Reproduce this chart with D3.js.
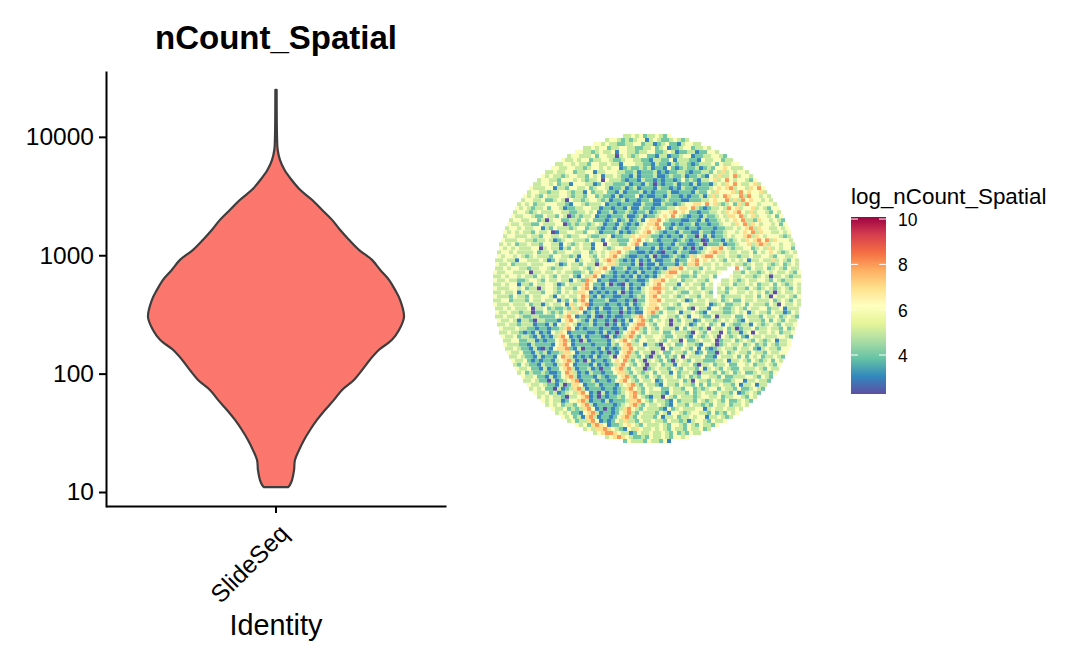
<!DOCTYPE html>
<html>
<head>
<meta charset="utf-8">
<script src="https://cdn.jsdelivr.net/npm/d3@7"></script>
<style>
  html, body { margin: 0; background: #fff; }
  svg { display: block; font-family: "Liberation Sans", Arial, sans-serif; }
</style>
</head>
<body>
<svg width="1080" height="667"></svg>
<script>
// Violin outline
const violinCounts = [11, 11.5, 12.6, 15.3, 18.6, 22.6, 27.5, 33.4, 40.6, 49.3, 60, 72.8, 88.5, 107, 131, 159, 193, 234, 301, 420, 510, 620, 754, 914, 1110, 1350, 1640, 1990, 2420, 2940, 3570, 4340, 5270, 6400, 7780, 10000, 25000];
const violinDensity = [0.094, 0.109, 0.125, 0.141, 0.148, 0.18, 0.219, 0.266, 0.32, 0.383, 0.453, 0.516, 0.609, 0.672, 0.734, 0.805, 0.906, 0.961, 1, 0.969, 0.93, 0.883, 0.813, 0.75, 0.648, 0.57, 0.5, 0.438, 0.359, 0.281, 0.188, 0.121, 0.066, 0.031, 0.013, 0.008, 0.005];
const identities = ['SlideSeq'];
const countTicks = [10, 100, 1000, 10000];
const legendTicks = [4, 6, 8, 10];

// Spatial plot: one digit = estimated log count for a small patch of the puck, rows top to bottom,
// grouped in tens so the row lengths can be checked. '.' = empty.
// Bands and tone are read from the picture, the speckle cell by cell is only an estimate.
const spatialRows = [
  '5565645565 46',
  '5665454566 3565445654 5',
  '6656554455 6645534564 4356655',
  '5565664556 6554455645 6344566455 65',
  '6655456556 3665545566 4456534455 344665',
  '5665556466 5525654566 4435534456 6344556654',
  '6556566455 6654456655 4435544635 5544365566 455',
  '5566565546 6556553666 5544354435 4554345556 465566',
  '6655665545 6656566345 4454534436 4345445345 46676555',
  '5565566455 6635566655 4453444534 3445543445 5465756 5665',
  '6565545665 5465635565 4435344453 3454453445 4365755685 665',
  '5665546665 6545562655 5434435443 4344346454 3556756865 66546',
  '5566564553 6665534655 4445344354 2434453443 5344356576 8655675',
  '6555663554 6655645665 3445345344 4354434354 4344456767 856657686',
  '5665545566 5455364556 4435344453 4344453344 4354465766 6758676675',
  '6565465556 6545546645 4435344463 4334435443 4344535756 8766858665 65',
  '5665564456 5265545665 4534453443 4453345444 3344455676 6857586766 565',
  '5656455666 5543665455 5634434443 3544335443 4566776867 5456475866 56665',
  '6565455646 6534455665 5344344353 3544344455 6776854345 5658675667 565466',
  '5665456555 6655445565 6344534454 3445345667 8676443445 5657678657 5665465',
  '6556654465 5465245455 6344344453 3453445676 8654344354 4565776856 75665646',
  '5665566452 5664455465 6444345345 3453677865 4443344353 4456567685 547665654',
  '6556554465 5566245455 4565344354 3435677864 4343445344 3445665768 5765665646',
  '5665655663 5465554566 4554344354 3445676786 4354434434 4434455656 7857665565 6',
  '6565655465 5623556655 4665344453 4345678654 3443544335 4434456656 7685766556 56',
  '5665556554 6655654556 6544556344 5576775443 4344354425 3534456566 7857656665 45',
  '6555665545 5653456655 5465536554 4467865643 4443454344 2354435456 5767868576 665',
  '5656455655 4665536545 6553662655 4467863444 3443544334 5244453445 6675787566 5665',
  '6565655566 2565535465 6553665456 6776344435 3434453424 3567786545 5664565756 5664',
  '5665655556 4556455665 5664565677 8654433434 3244354433 4567875655 6556465676 54565',
  '6566565456 5554665545 3665465678 6543344352 4334543475 6788655655 4556556654 66556',
  '5565536655 5653465566 3566546787 5434353435 3344534467 8676565465 6563556557 565465',
  '6556455565 5566653465 5465525677 5444352433 5344435477 8655656556 5545655654 564565',
  '5565665545 5665455665 5654567863 4453443434 3435778655 54656555.. 8.54655645 654655',
  '6556655562 5565565655 4456477654 3443435344 3457886556 4565556... 5546554565 6556546',
  '5565665655 4656546556 4365786344 3434353434 3567765445 465564...6 5565545652 5565455',
  '6556554456 6546556553 6548763443 3443443346 7786556455 65546..556 5456556654 6545566',
  '5565663554 6556653465 5578644352 4325344356 7865553656 55465.6556 4556564556 4654565',
  '6555665645 5256654655 4678634344 4435343567 8875645565 56455.5645 6554654565 4565465',
  '5565563565 5546654656 5776343434 3524344567 7865565446 55654.5546 6556565645 2565565',
  '6555465546 5566536565 5687435344 3344345467 8655654565 54655.6455 5565564652 6556546',
  '5566455546 5565563546 4786344453 3443424467 7865556534 6556556456 4465565556 4565465',
  '6555655564 5535655637 5678344434 4343534567 7655654665 5556345644 5564655546 5265565',
  '5565655562 5564544547 5863435334 4353434677 8654455642 6553665445 6546556645 563555',
  '6556554552 4465454675 7634534434 4243433678 5465563556 5436555445 6563565546 553465',
  '5565565445 5444465786 3443532434 3344578654 4665546536 6544625556 4465554655 645654',
  '6556535542 5544436786 5435344342 4353678546 5652546553 4655456565 4365554646 54655',
  '5565545553 4435365765 3445344243 5346788654 6652556534 6564563654 4553654565 46556',
  '6555655443 4434457863 4344434433 4367854654 6555364655 4526556452 4556455655 4645',
  '5565543435 3436576344 4433435342 4678654655 6446555426 5465526455 3562655656 4556',
  '6556455435 3435786343 5344432534 5785465566 5446554365 4565265456 4365565 556 654',
  '5566445534 3446785342 5344443567 8654665565 4655264456 5562455645 6546545 63556',
  '6555443544 4436786344 4434443546 7855635542 6564465543 6652456556 4564546545 56',
  '5565443532 4367784352 4443534347 7865565552 6455654636 4345655465 5643565546 6',
  '6556443545 3445776344 4343424367 8546552564 4655465346 4425645655 4655465566',
  '5565443534 4368753434 3534452678 5546425464 5462655564 4365556464 656455654',
  '6556434344 3567853425 3443467685 4652565464 2565465544 4556355654 65456465',
  '5465443544 3578634443 5343457865 4652556455 3655642556 4556446656 4556546',
  '6556443534 4678534453 4244678546 5524565546 5465546356 5465446555 654655',
  '5645445433 4687534354 4344677546 5456465536 4556425554 6456456445 65546',
  '6556443534 6785344435 4344678546 5465465564 5645466554 6445556654 654',
  '5565442534 5678344534 4346786546 5563465556 4526554655 4456635565 54',
  '6556544352 4776344534 4435678546 5543655465 5464645565 5463556355',
  '5656442534 5785344434 4345786546 5664465546 6454566465 546445654',
  '6556453456 5786342534 3456785465 5543655546 4565546554 6345654',
  '5656554255 6783424344 5467865435 5265465554 5665564556 65465',
  '6565534667 8534435344 4577865465 5436455546 5456546445 654',
  '5656455467 8534444345 6785465565 4365546554 5465564556 5',
  '6556454578 6342434578 6546555436 4565556635 65565565',
  '5656443678 5344346785 4655546536 6545665546 454656',
  '6564537853 4434678546 5554635564 5565663556 545',
  '5645578634 3465755465 5655465545 3566546556',
  '6564787634 4567654655 5654665465 465546',
  '5657787654 3657655656 5465546556 45',
  '5678876553 4655655654 6454655',
  '5678765445 4655654665 6',
  '4655546554 63'
].map(row => row.replace(/ /g, ''));

const svg = d3.select('svg');

// ---- violin panel ----
const yCount = d3.scaleLog().domain([7.47, 36000]).range([507, 71]);
const xIdentity = d3.scaleBand().domain(identities).range([106, 446]);
const halfWidth = d3.scaleLinear().domain([0, 1]).range([0, 128]);
const xCenter = xIdentity('SlideSeq') + xIdentity.bandwidth() / 2;

const violinPoints = violinCounts.map((c, i) => ({ count: c, density: violinDensity[i] }));

const violin = d3.area()
  .curve(d3.curveCatmullRom.alpha(0.5))
  .y(d => yCount(d.count))
  .x0(d => xCenter - halfWidth(d.density))
  .x1(d => xCenter + halfWidth(d.density));

svg.append('path')
  .datum(violinPoints)
  .attr('d', violin)
  .attr('fill', '#fb766d')
  .attr('stroke', '#3d3d3d')
  .attr('stroke-width', 2.2)
  .attr('stroke-linejoin', 'round');

const yAxis = svg.append('g')
  .attr('transform', 'translate(106,0)')
  .call(d3.axisLeft(yCount).tickValues(countTicks).tickFormat(d3.format('d')).tickSize(7).tickSizeOuter(0).tickPadding(5));

const xAxis = svg.append('g')
  .attr('transform', 'translate(0,506)')
  .call(d3.axisBottom(xIdentity).tickSize(7).tickSizeOuter(0));

[yAxis, xAxis].forEach(a => {
  a.selectAll('path, line').attr('stroke', '#000').attr('stroke-width', 2);
  a.selectAll('text').attr('fill', '#000').style('font-size', '24.5px').style('font-family', 'inherit');
});

xAxis.selectAll('text')
  .attr('text-anchor', 'end')
  .attr('transform', 'translate(8,23) rotate(-45)')
  .attr('dy', '0.35em')
  .attr('y', 0)
  .attr('x', 0);

svg.append('text')
  .attr('x', xCenter).attr('y', 49)
  .attr('text-anchor', 'middle')
  .attr('font-weight', 'bold')
  .attr('font-size', 33)
  .text('nCount_Spatial');

svg.append('text')
  .attr('x', xCenter).attr('y', 635)
  .attr('text-anchor', 'middle')
  .attr('font-size', 28.8)
  .text('Identity');

// ---- spatial panel ----
const colorStops = d3.schemeSpectral[11].slice().reverse();
const legendDomain = [2.28, 10.09];
const colorPos = d3.scaleLinear().domain([0, colorStops.length - 1]).range(legendDomain);
const color = d3.scaleLinear()
  .domain(colorStops.map((_, i) => colorPos(i)))
  .range(colorStops)
  .clamp(true);

const xSpot = d3.scaleLinear().domain([-38, 38]).range([495, 799]);
const ySpot = d3.scalePoint().domain(d3.range(spatialRows.length)).range([136, 441]);

const spots = spatialRows.flatMap((row, r) =>
  Array.from(row, (ch, i) => ({ r, c: i - (row.length - 1) / 2, v: +ch, empty: ch === '.' }))
).filter(d => !d.empty);

svg.append('g')
  .style('filter', 'blur(0.5px)')
  .selectAll('rect')
  .data(spots)
  .join('rect')
  .attr('x', d => xSpot(d.c) - 2)
  .attr('y', d => ySpot(d.r) - 2)
  .attr('width', 4)
  .attr('height', 4)
  .attr('fill', d => color(d.v));

// ---- legend ----
const yLegend = d3.scaleLinear().domain(legendDomain).range([394, 217]);
const barX = 851, barW = 35;

const grad = svg.append('defs').append('linearGradient')
  .attr('id', 'legendGrad')
  .attr('x1', 0).attr('x2', 0).attr('y1', 1).attr('y2', 0);
grad.selectAll('stop')
  .data(colorStops)
  .join('stop')
  .attr('offset', (d, i) => i / (colorStops.length - 1))
  .attr('stop-color', d => d);

svg.append('rect')
  .attr('x', barX).attr('y', yLegend.range()[1])
  .attr('width', barW).attr('height', yLegend.range()[0] - yLegend.range()[1])
  .attr('fill', 'url(#legendGrad)');

const legendAxis = svg.append('g')
  .attr('transform', `translate(${barX + barW},1)`)
  .call(d3.axisRight(yLegend).tickValues(legendTicks).tickSize(0).tickPadding(12));
legendAxis.select('.domain').remove();
legendAxis.selectAll('text').attr('fill', '#000').style('font-size', '17.5px').style('font-family', 'inherit');

[[barX, barX + 7], [barX + barW - 7, barX + barW]].forEach(([x1, x2]) => {
  svg.append('g').selectAll('line')
    .data(legendTicks)
    .join('line')
    .attr('x1', x1).attr('x2', x2)
    .attr('y1', d => yLegend(d)).attr('y2', d => yLegend(d))
    .attr('stroke', '#fff')
    .attr('stroke-width', 1);
});

svg.append('text')
  .attr('x', 851).attr('y', 204)
  .attr('font-size', 22.4)
  .text('log_nCount_Spatial');
</script>
</body>
</html>
